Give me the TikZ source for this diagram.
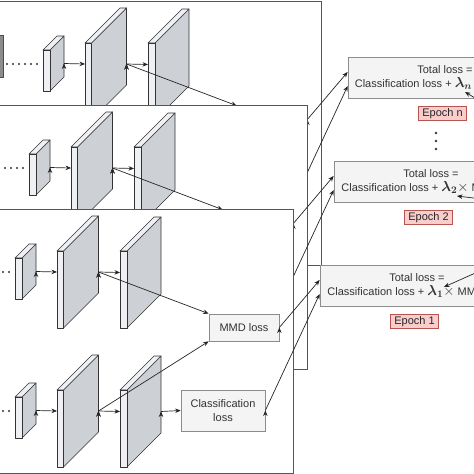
\documentclass[tikz,border=0pt]{standalone}
\usepackage{fontspec}
\setmainfont{Liberation Sans}
\usepackage{bm}
\usetikzlibrary{arrows.meta,positioning}
\definecolor{framegray}{HTML}{555555}
\definecolor{slabfront}{HTML}{EEF0F3}
\definecolor{slabside}{HTML}{CDD1D6}
\definecolor{boxfill}{HTML}{F4F4F4}
\definecolor{boxline}{HTML}{8C8C8C}
\definecolor{txt}{HTML}{333333}
\definecolor{epochfill}{HTML}{F8CECC}
\definecolor{epochline}{HTML}{B85450}
\tikzset{%
panel/.style={draw=framegray, fill=white, line width=0.9pt},
slabface/.style={draw=black!80, line width=0.6pt, line join=round},
lossbox/.style={rectangle, draw=boxline, fill=boxfill, text=txt, align=center, line width=0.7pt, inner sep=1pt},
epochtag/.style={rectangle, draw=epochline, fill=epochfill, text=black!85, minimum height=14pt, inner xsep=4pt, inner ysep=1pt, line width=0.7pt},
pt/.style={draw=black!85, line width=0.7pt, -{Stealth[length=5.5pt,width=4.5pt]}}
}
% one conv slab: name, x, top, width, height, depth
\newcommand{\slab}[6]{%
  \filldraw[slabface, fill=slabside] ({#2+#4},#3) -- ++(#6,-#6) -- ++(0,#5) -- ({#2+#4},{#3+#5}) -- cycle;
  \filldraw[slabface, fill=slabfront] (#2,#3) -- ++(#6,-#6) -- ++(#4,0) -- ({#2+#4},#3) -- cycle;
  \filldraw[slabface, fill=slabfront] (#2,#3) rectangle ++(#4,#5);
  \coordinate (#1in) at (#2,{#3+#5/2-#6/2});
  \coordinate (#1out) at ({#2+#4+#6},{#3+#5/2-#6/2});
}

\begin{document}
\begin{tikzpicture}[x=1pt, y=-1pt, font=\fontsize{11}{13.5}\selectfont]
	\useasboundingbox (0,0) rectangle (474,474);
	\clip (0,0) rectangle (474,474);

	% panels, back (epoch n) to front (epoch 1)
	\foreach \dx/\dy/\k in {28/-208/n, 14/-104/2, 0/0/1} {
	\begin{scope}[shift={(\dx,\dy)}, name prefix=p\k-]
		\draw[panel] (-60,209) rectangle (293,473);
		\filldraw[draw=black!70, fill=black!45] (-40,243) rectangle (-25,285);
		\foreach \d in {0,...,5} {
			\fill[black!80] ({-21+6*\d},272) circle (1.1);
			\fill[black!80] ({-21+6*\d},411) circle (1.1);
		}
		% upper stream
		\slab{s1}{15}{258}{7}{41}{14}
		\slab{b1}{57}{251}{6.5}{77}{35}
		\slab{b2}{120}{251}{7}{77}{34}
		% lower stream
		\slab{ls1}{15}{397}{7}{41}{14}
		\slab{lb1}{57}{390}{6.5}{77}{35}
		\slab{lb2}{120}{390}{7}{77}{34}

		\node[lossbox, minimum width=70pt, minimum height=27pt] (mmd) at (244,327.5) {MMD loss};
		\node[lossbox, minimum width=84pt, minimum height=41pt] (cls) at (223,410.5) {Classification\\loss};
		\node[lossbox, minimum width=194pt, minimum height=41pt] (ep) at (417,285.5)
			{Total loss =\\Classification loss + {\fontsize{14}{14}\selectfont$\bm{\lambda}_{\bm{\k}}\times$} MMD loss};
		\node[epochtag, below=8pt of ep, xshift=-2.5pt] (tag) {Epoch \k};

		\path[pt] (s1out) 	edge (b1in);
		\path[pt] (b1out) 	edge (b2in);
		\path[pt] (ls1out) 	edge (lb1in);
		\path[pt] (lb1out) 	edge (lb2in);
		\path[pt] (b1out) 	edge (mmd.north west);
		\path[pt] (lb1out) 	edge (mmd.south west);
		\path[pt] (lb2out) 	edge (cls.west);
		\path[pt] (mmd.east) 	edge ([yshift=5.5pt]ep.west);
		\path[pt] (cls.east) 	edge ([yshift=-8.5pt]ep.west);
	\end{scope}
	}

	% epochs in between
	\foreach \y in {133,141,149} \fill[black!80] (436,\y) circle (1.3);

	% weights fed in from the right
	\coordinate (lamsrc1) at (500,262);
	\coordinate (lamtip1) at (444,287);
	\coordinate (lamsrc2) at (490,200);
	\coordinate (lamtip2) at (457,196);
	\coordinate (lamsrcn) at (485,104);
	\coordinate (lamtipn) at (465,92);
	\path[pt] (lamsrc1) edge (lamtip1);
	\path[pt] (lamsrc2) edge (lamtip2);
	\path[pt] (lamsrcn) edge (lamtipn);
\end{tikzpicture}
\end{document}
